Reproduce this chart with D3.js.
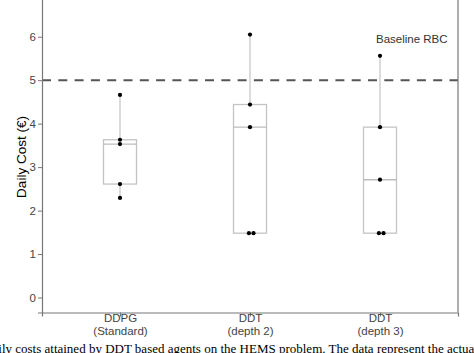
<!DOCTYPE html>
<html>
<head>
<meta charset="utf-8">
<script src="https://cdn.jsdelivr.net/npm/d3@7"></script>
<style>
body { margin: 0; background: #fff; }
svg { display: block; font-family: "Liberation Sans", Arial, sans-serif; }
</style>
</head>
<body>
<svg id="svg1" width="474" height="353"></svg>
<script>
var svg1 = d3.select('#svg1');

// data
var groups = ['DDPG\n(Standard)', 'DDT\n(depth 2)', 'DDT\n(depth 3)'];
var ddpg = [2.29, 2.61, 3.53, 3.63, 4.66];
var ddt2 = [1.48, 1.48, 3.92, 4.44, 6.05];
var ddt3 = [1.48, 1.48, 2.71, 3.92, 5.56];
var yTicks = [0, 1, 2, 3, 4, 5, 6];
var baseline = 5;
var baselineLabel = 'Baseline RBC';
var caption = 'daily costs attained by DDT based agents on the HEMS problem. The data represent the actual d';

var series = [ddpg, ddt2, ddt3];

var padL = 42, padR = 458, padT = -3, padB = 312.5;

var x = d3.scalePoint().domain(groups).range([padL, padR]).padding(0.6);
var y = d3.scaleLinear().domain([-0.345, 6.914]).range([padB, padT]);
var boxW = 33;

// baseline
svg1.append('line')
	.attr('x1', padL).attr('x2', padR)
	.attr('y1', y(baseline)).attr('y2', y(baseline))
	.attr('stroke', '#555').attr('stroke-width', 2).attr('stroke-dasharray', '9,7.3');
svg1.append('text').attr('x', 376).attr('y', y(5.86))
	.attr('font-size', 11.5).attr('fill', '#333').text(baselineLabel);

// boxes
var boxes = svg1.selectAll('g.box').data(series).enter().append('g').attr('class', 'box')
	.attr('transform', (d, i) => 'translate(' + x(groups[i]) + ',0)');

boxes.each(function(vals) {
	var g = d3.select(this);
	var s = vals.slice().sort(d3.ascending);
	var q1 = d3.quantile(s, 0.25), med = d3.quantile(s, 0.5), q3 = d3.quantile(s, 0.75);
	var lo = d3.min(s), hi = d3.max(s);
	g.append('line').attr('x1', 0).attr('x2', 0).attr('y1', y(q3)).attr('y2', y(hi))
		.attr('stroke', '#c4c4c4').attr('stroke-width', 1.2);
	g.append('line').attr('x1', 0).attr('x2', 0).attr('y1', y(q1)).attr('y2', y(lo))
		.attr('stroke', '#c4c4c4').attr('stroke-width', 1.2);
	g.append('rect').attr('x', -boxW / 2).attr('width', boxW)
		.attr('y', y(q3)).attr('height', y(q1) - y(q3))
		.attr('fill', 'none').attr('stroke', '#c4c4c4').attr('stroke-width', 1.3);
	g.append('line').attr('x1', -boxW / 2).attr('x2', boxW / 2).attr('y1', y(med)).attr('y2', y(med))
		.attr('stroke', '#bdbdbd').attr('stroke-width', 1.4);
	// points, side by side where values repeat
	var counts = {};
	s.forEach(v => { counts[v] = (counts[v] || 0) + 1; });
	var seen = {};
	g.selectAll('circle').data(s).enter().append('circle')
		.attr('cx', v => {
			var n = counts[v], k = seen[v] = (seen[v] || 0) + 1;
			return n > 1 ? (k - (n + 1) / 2) * 4.6 + 1.2 : 0;
		})
		.attr('cy', v => y(v)).attr('r', 2.1).attr('fill', '#000');
});

// axes
var yAxis = svg1.append('g').attr('transform', 'translate(' + padL + ',0)')
	.call(d3.axisLeft(y).tickValues(yTicks).tickSize(4).tickPadding(2));
var xAxis = svg1.append('g').attr('transform', 'translate(0,' + padB + ')')
	.call(d3.axisBottom(x).tickSize(4).tickPadding(2).tickFormat(''));
[yAxis, xAxis].forEach(a => {
	a.select('.domain').attr('stroke', '#777').attr('stroke-width', 1.2);
	a.selectAll('.tick line').attr('stroke', '#777');
});
yAxis.selectAll('.tick text').attr('font-size', 11.5).attr('fill', '#444')
	.attr('font-family', '"Liberation Sans", Arial, sans-serif');
svg1.append('line').attr('x1', padR).attr('x2', padR).attr('y1', padT).attr('y2', padB)
	.attr('stroke', '#777').attr('stroke-width', 1.2);

xAxis.selectAll('.tick').each(function(d) {
	var t = d3.select(this).append('text').attr('fill', '#444').attr('font-size', 11.5)
		.attr('text-anchor', 'middle').attr('font-family', '"Liberation Sans", Arial, sans-serif');
	d.split('\n').forEach((line, i) => {
		t.append('tspan').attr('x', 0).attr('y', 9.5 + i * 12.5).text(line);
	});
});

svg1.append('text').attr('transform', 'translate(26,157) rotate(-90)')
	.attr('text-anchor', 'middle').attr('font-size', 13.5).attr('fill', '#000')
	.text('Daily Cost (€)');

svg1.append('text').attr('x', -14).attr('y', 352.5)
	.attr('font-family', '"Liberation Serif", "Times New Roman", serif')
	.attr('font-size', 13).attr('fill', '#000').text(caption);
</script>
</body>
</html>
